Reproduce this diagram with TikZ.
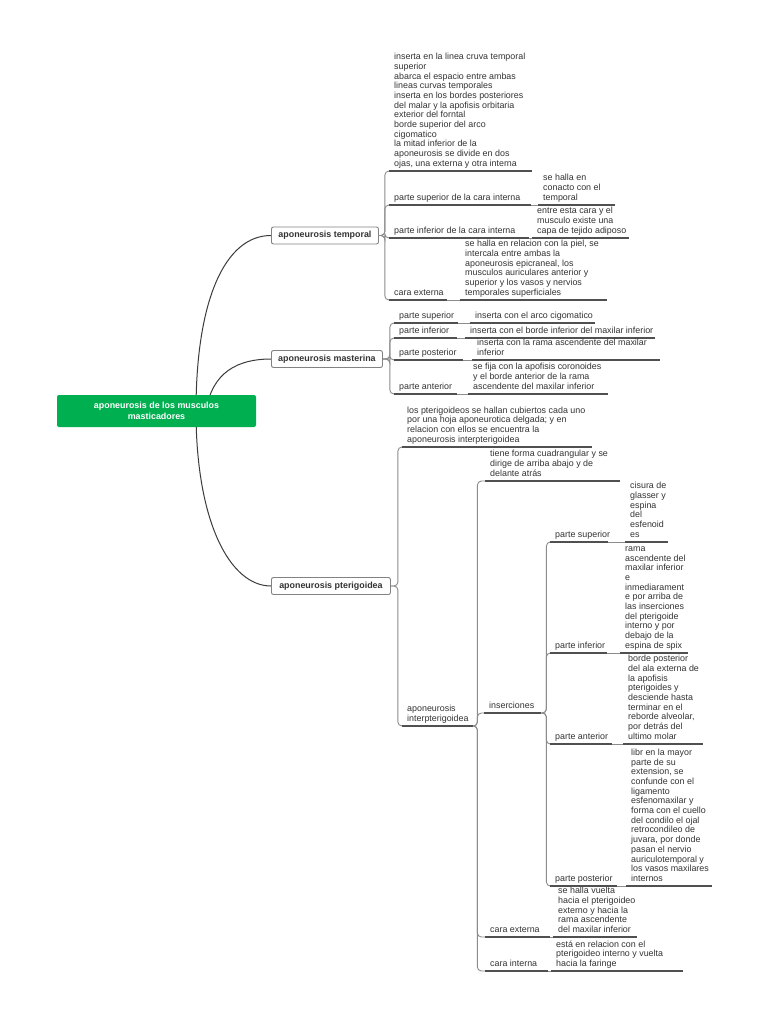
\documentclass[tikz,border=0pt]{standalone}
\usepackage{fontspec}
\setmainfont{Liberation Sans}
\pgfdeclarelayer{bg}
\pgfdeclarelayer{paper}
\pgfsetlayers{paper,bg,main}
\definecolor{txtC}{RGB}{51,51,51}
\definecolor{ulC}{RGB}{80,80,80}
\definecolor{brC}{RGB}{140,140,140}
\definecolor{cvC}{RGB}{60,60,60}
\definecolor{boxC}{RGB}{130,130,130}
\definecolor{rootC}{RGB}{0,175,80}
\newcommand\LeafTxt[2]{\makebox[#1pt][l]{\begin{tabular}[b]{@{}l@{}}#2\end{tabular}}}
\tikzset{
  ulstyle/.style={draw=ulC, line width=1.1pt},
  brstyle/.style={draw=brC, line width=0.9pt, rounded corners=4pt},
  cvstyle/.style={draw=cvC, line width=1pt},
  leaf/.style={anchor=south west, inner xsep=5pt, inner ysep=1.5pt,
    font=\fontsize{8.9}{9.7}\selectfont, text=txtC,
    append after command={(\tikzlastnode.south west) edge[ulstyle] (\tikzlastnode.south east)}},
  topic/.style={draw=boxC, fill=white, rounded corners=2pt, line width=0.9pt,
    font=\bfseries\fontsize{8.9}{10}\selectfont, text=txtC, anchor=west,
    minimum height=17pt, inner xsep=0pt, inner ysep=0pt},
  rootbox/.style={fill=rootC, rounded corners=2pt, text=white, align=center,
    font=\bfseries\fontsize{8.9}{11}\selectfont, minimum width=199pt, minimum height=32pt}
}
\begin{document}
\begin{tikzpicture}[x=1pt,y=-1pt]
\useasboundingbox (0,0) rectangle (768,1024);
\begin{pgfonlayer}{paper}
\fill[white] (0,0) rectangle (768,1024);
\end{pgfonlayer}

% root and main topics
\node[rootbox] (root) at (156.5,411) {aponeurosis de los musculos\\masticadores};
\node[topic, minimum width=107pt] (temporal) at (271,235.5) {aponeurosis temporal};
\node[topic, minimum width=111pt] (masterina) at (271,359) {aponeurosis masterina};
\node[topic, minimum width=119pt] (pterigoidea) at (271,586) {aponeurosis pterigoidea};
\coordinate (rc) at (196,411);
\coordinate (rcm) at (206,411);

% temporal
\node[leaf] (T1) at (389,171) {\LeafTxt{133}{inserta en la linea cruva temporal\\superior\\abarca el espacio entre ambas\\lineas curvas temporales\\inserta en los bordes posteriores\\del malar y la apofisis orbitaria\\exterior del forntal\\borde superior del arco\\cigomatico\\la mitad inferior de la\\aponeurosis se divide en dos\\ojas, una externa y otra interna}};
\node[leaf] (T2) at (389,205) {\LeafTxt{132}{parte superior de la cara interna}};
\node[leaf] (T2c) at (538,205) {\LeafTxt{67}{se halla en\\conacto con el\\temporal}};
\node[leaf] (T3) at (389,238) {\LeafTxt{130}{parte inferior de la cara interna}};
\node[leaf] (T3c) at (532,238) {\LeafTxt{87}{entre esta cara y el\\musculo existe una\\capa de tejido adiposo}};
\node[leaf] (T4) at (389,300) {\LeafTxt{48}{cara externa}};
\node[leaf] (T4c) at (460,300) {\LeafTxt{137}{se halla en relacion con la piel, se\\intercala entre ambas la\\aponeurosis epicraneal, los\\musculos auriculares anterior y\\superior y los vasos y nervios\\temporales superficiales}};

% masterina
\node[leaf] (M1) at (394,323) {\LeafTxt{54}{parte superior}};
\node[leaf] (M1c) at (470,323) {\LeafTxt{115}{inserta con el arco cigomatico}};
\node[leaf] (M2) at (394,338) {\LeafTxt{53}{parte inferior}};
\node[leaf] (M2c) at (465,338) {\LeafTxt{180}{inserta con el borde inferior del maxilar inferior}};
\node[leaf] (M3) at (394,360) {\LeafTxt{59}{parte posterior}};
\node[leaf] (M3c) at (472,360) {\LeafTxt{178}{inserta con la rama ascendente del maxilar\\inferior}};
\node[leaf] (M4) at (394,394) {\LeafTxt{53}{parte anterior}};
\node[leaf] (M4c) at (468,394) {\LeafTxt{130}{se fija con la apofisis coronoides\\y el borde anterior de la rama\\ascendente del maxilar inferior}};

% pterigoidea
\node[leaf] (P1) at (402,447) {\LeafTxt{180}{los pterigoideos se hallan cubiertos cada uno\\por una hoja aponeurotica delgada; y en\\relacion con ellos se encuentra la\\aponeurosis interpterigoidea}};
\node[leaf] (P2) at (402,726) {\LeafTxt{61}{aponeurosis\\interpterigoidea}};

\node[leaf] (I1) at (485,481) {\LeafTxt{125}{tiene forma cuadrangular y se\\dirige de arriba abajo y de\\delante atrás}};
\node[leaf] (I2) at (484,713) {\LeafTxt{47}{inserciones}};
\node[leaf] (I3) at (485,937) {\LeafTxt{55}{cara externa}};
\node[leaf] (C1c) at (553,937) {\LeafTxt{74}{se halla vuelta\\hacia el pterigoideo\\externo y hacia la\\rama ascendente\\del maxilar inferior}};
\node[leaf] (I4) at (485,971) {\LeafTxt{53}{cara interna}};
\node[leaf] (C2c) at (551,971) {\LeafTxt{122}{está en relacion con el\\pterigoideo interno y vuelta\\hacia la faringe}};

\node[leaf] (S1) at (550,542) {\LeafTxt{48}{parte superior}};
\node[leaf] (S1c) at (625,542) {\LeafTxt{33}{cisura de\\glasser y\\espina\\del\\esfenoid\\es}};
\node[leaf] (S2) at (550,653) {\LeafTxt{47}{parte inferior}};
\node[leaf] (S2c) at (620,653) {\LeafTxt{58}{rama\\ascendente del\\maxilar inferior\\e\\inmediarament\\e por arriba de\\las inserciones\\del pterigoide\\interno y por\\debajo de la\\espina de spix}};
\node[leaf] (S3) at (550,744) {\LeafTxt{52}{parte anterior}};
\node[leaf] (S3c) at (623,744) {\LeafTxt{70}{borde posterior\\del ala externa de\\la apofisis\\pterigoides y\\desciende hasta\\terminar en el\\reborde alveolar,\\por detrás del\\ultimo molar}};
\node[leaf] (S4) at (550,886) {\LeafTxt{57}{parte posterior}};
\node[leaf] (S4c) at (626,886) {\LeafTxt{76}{libr en la mayor\\parte de su\\extension, se\\confunde con el\\ligamento\\esfenomaxilar y\\forma con el cuello\\del condilo el ojal\\retrocondileo de\\juvara, por donde\\pasan el nervio\\auriculotemporal y\\los vasos maxilares\\internos}};

\begin{pgfonlayer}{bg}
  \draw[cvstyle] (rc) .. controls (196,300) and (225,235.5) .. (temporal.west);
  \draw[cvstyle] (rcm) .. controls (212,372) and (238,359) .. (masterina.west);
  \draw[cvstyle] (rc) .. controls (196,522) and (230,586) .. (pterigoidea.west);
  \foreach \c in {T1,T2,T3,T4}
    \draw[brstyle] (temporal.east) -- ++(6,0) |- (\c.south west);
  \foreach \c in {M1,M2,M3,M4}
    \draw[brstyle] (masterina.east) -- ++(7,0) |- (\c.south west);
  \foreach \c in {P1,P2}
    \draw[brstyle] (pterigoidea.east) -- ++(7,0) |- (\c.south west);
  \foreach \c in {I1,I2,I3,I4}
    \draw[brstyle] (P2.south east) -- ++(4,0) |- (\c.south west);
  \foreach \c in {S1,S2,S3,S4}
    \draw[brstyle] (I2.south east) -- ++(5,0) |- (\c.south west);
  \foreach \a/\b in {T2/T2c,T3/T3c,T4/T4c,M1/M1c,M2/M2c,M3/M3c,M4/M4c,S1/S1c,S2/S2c,S3/S3c,S4/S4c,I3/C1c,I4/C2c}
    \draw[brstyle] (\a.south east) -- (\b.south west);
\end{pgfonlayer}
\end{tikzpicture}
\end{document}
